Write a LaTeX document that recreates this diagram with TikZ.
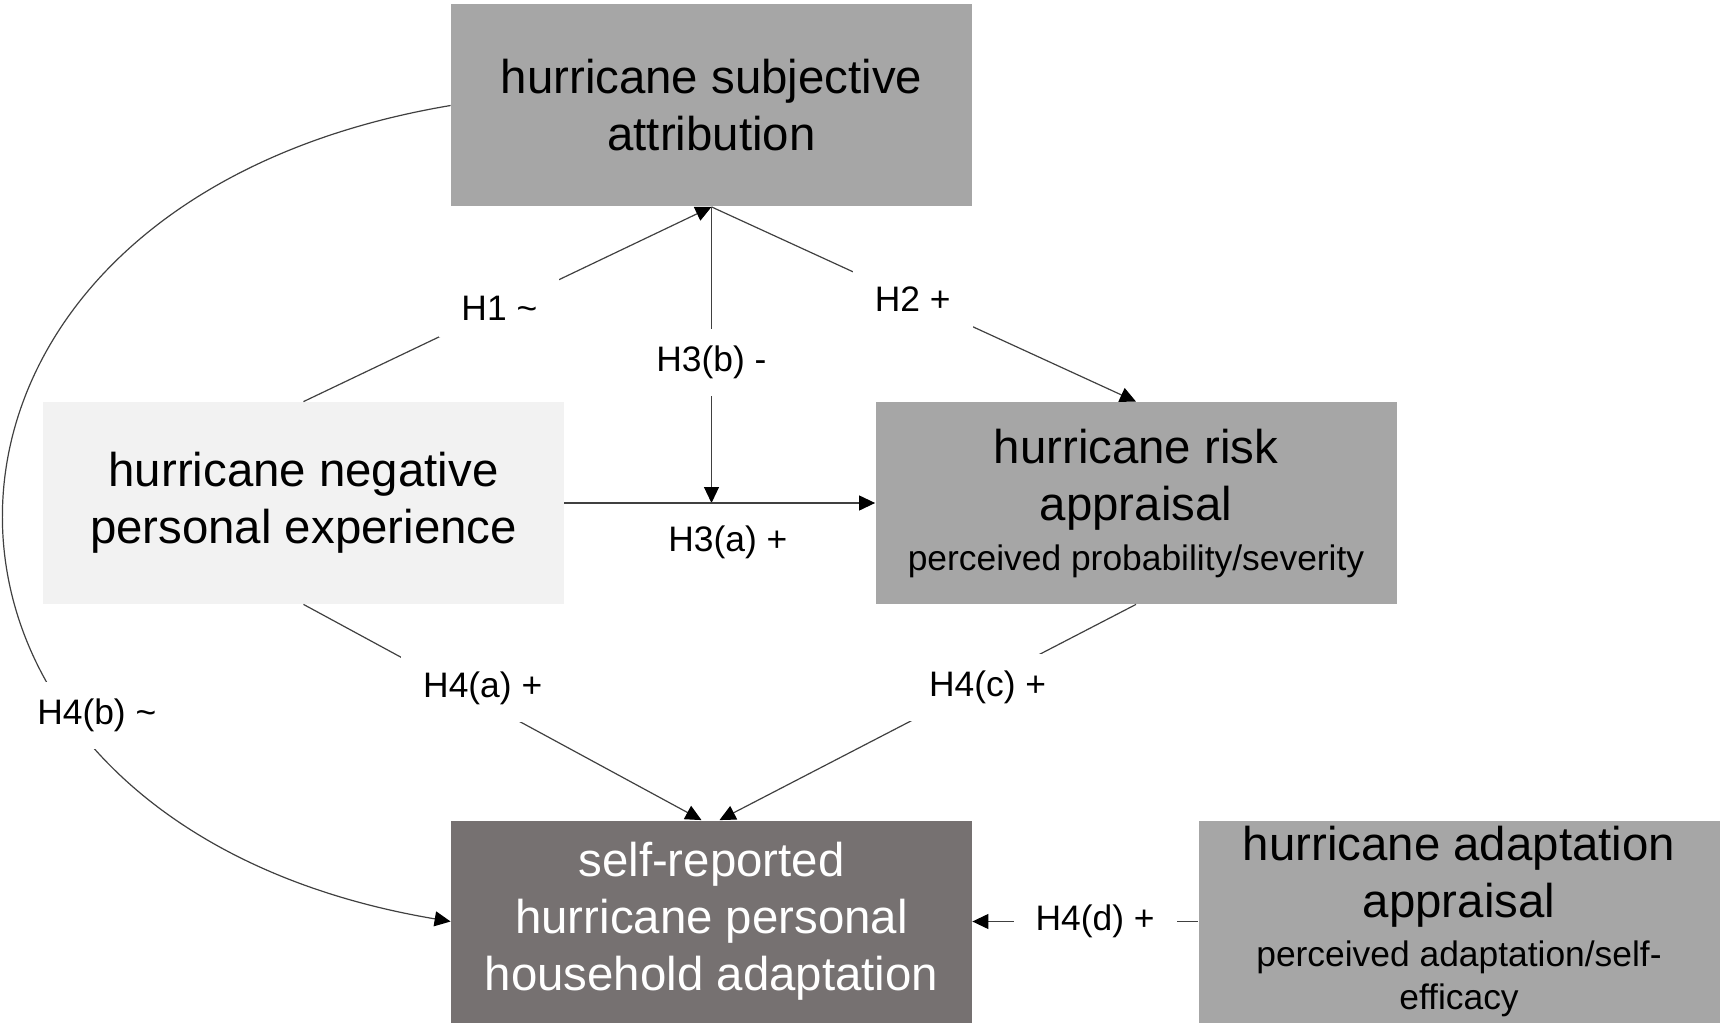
\documentclass[tikz,border=0pt]{standalone}
\usepackage{fontspec}
\setmainfont{Liberation Sans}
\usetikzlibrary{arrows.meta}
\definecolor{boxmid}{HTML}{A6A6A6}
\definecolor{boxlight}{HTML}{F2F2F2}
\definecolor{boxdark}{HTML}{767171}
\definecolor{linegray}{HTML}{404040}
\newcommand{\subline}{\fontsize{17.7}{21.5}\selectfont}

\begin{document}
\begin{tikzpicture}[x=0.5pt,y=-0.5pt,
  bx/.style={minimum width=260.5pt,minimum height=101pt,inner sep=0pt,
             align=center,font=\fontsize{23.7}{28.5}\selectfont},
  e/.style={-{Triangle[length=8pt,width=7.5pt,color=black]},linegray,line width=0.6pt},
  lb/.style={fill=white,inner xsep=11pt,inner ysep=8.5pt,text=black,
             font=\fontsize{17.7}{21.5}\selectfont}]
  \useasboundingbox (0,0) rectangle (1725,1027);
  \node[bx,fill=boxmid]   (att)  at (711.5,105.5) {hurricane subjective\\attribution};
  \node[bx,fill=boxlight] (exp)  at (303.5,503)   {hurricane negative\\personal experience};
  \node[bx,fill=boxmid,text depth=3pt] (risk) at (1136,503) {hurricane risk\\appraisal\\[-3.75pt]
    {\subline perceived probability/severity}};
  \node[bx,fill=boxdark,text=white] (adp) at (711.5,921.5)
    {self-reported\\hurricane personal\\household adaptation};
  \node[bx,fill=boxmid]   (aap)  at (1459,921.5)  {hurricane adaptation\\appraisal\\[-3.75pt]
    {\subline perceived adaptation/self-}\\[-7pt]{\subline efficacy}};
  \coordinate (h3b) at (att.south |- exp.east);
  \draw[e] (exp.north) -- node[lb,pos=0.48]{H1 \textasciitilde} (att.south);
  \draw[e] (att.south) -- node[lb,pos=0.474]{H2 +} (risk.north);
  \draw[e] (att.south) -- node[lb,pos=0.525]{H3(b) -} (h3b);
  \draw[e] (exp.east) -- node[lb,below,pos=0.526,yshift=-2.5pt]{H3(a) +} (risk.west);
  \draw[e] (exp.south) -- node[lb,pos=0.39,xshift=12pt]{H4(a) +} ([xshift=-5pt]adp.north);
  \draw[e] (risk.south) -- node[lb,pos=0.385,xshift=6pt]{H4(c) +} ([xshift=4pt]adp.north);
  \draw[e] (att.west) .. controls +(-595,100) and +(-595,-100) .. (adp.west)
    node[lb,pos=0.69,xshift=14pt,yshift=-2.5pt]{H4(b) \textasciitilde};
  \draw[e] (aap.west) -- node[lb,pos=0.456]{H4(d) +} (adp.east);
\end{tikzpicture}
\end{document}
